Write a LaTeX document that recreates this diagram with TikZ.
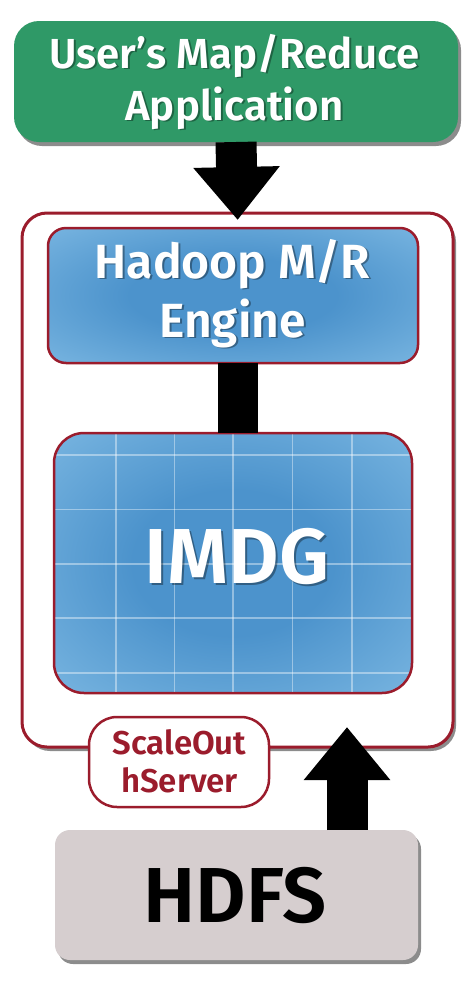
\documentclass[tikz,border=0pt]{standalone}
\usepackage{fontspec}
\setmainfont{Fira Sans}[UprightFont={* SemiBold}]
\usetikzlibrary{shadows,arrows.meta,calc}
\definecolor{appgreen}{RGB}{47,153,103}
\definecolor{darkred}{RGB}{155,28,44}
\definecolor{hdfsgray}{RGB}{214,206,207}
\definecolor{bluec}{RGB}{76,147,204}
\definecolor{bluee}{RGB}{148,202,237}
\pgfdeclareradialshading{blueglow}{\pgfpoint{0bp}{0bp}}{color(0bp)=(bluec); color(14bp)=(bluec); color(50bp)=(bluee); color(75bp)=(bluee)}
\tikzset{
  boxshadow/.style={drop shadow={shadow xshift=3pt, shadow yshift=-4pt, fill=black, opacity=0.45}},
  box/.style={rectangle, inner sep=0pt, outer sep=0pt},
  bluebox/.style={box, draw=darkred, line width=2.5pt, shading=blueglow},
  wtext/.style={text=white, align=center, inner sep=0pt},
  wshadow/.style={text=black, text opacity=0.35, align=center, inner sep=0pt},
  bigarrow/.style={line width=41pt, line cap=butt, -{Triangle[length=53pt, width=83pt]}},
  bar/.style={line width=40pt, line cap=butt},
}
\begin{document}
\begin{tikzpicture}[x=1pt,y=-1pt]
\useasboundingbox (0,0) rectangle (474,991);
% outer ScaleOut container
\node[box, draw=darkred, line width=3pt, fill=white, rounded corners=25pt, boxshadow,
      minimum width=431pt, minimum height=534pt] (outer) at (237.5,480) {};
% green application box
\node[box, fill=appgreen, rounded corners=25pt, boxshadow,
      minimum width=444pt, minimum height=121pt] (app) at (236,81.5) {};
% Hadoop engine
\node[bluebox, rounded corners=18pt, minimum width=370pt, minimum height=135pt] (hadoop) at (233,295.5) {};
% IMDG
\node[bluebox, rounded corners=30pt, minimum width=358pt, minimum height=260pt] (imdg) at (233,563) {};
\begin{scope}
  \clip[rounded corners=30pt] ($(imdg.north west)+(1.25,1.25)$) rectangle ($(imdg.south east)+(-1.25,-1.25)$);
  \foreach \dx in {-117,-58.5,0,59.5,119}
    \draw[white, opacity=0.4, line width=1.4pt] ($(imdg.north)+(\dx,0)$) -- ($(imdg.south)+(\dx,0)$);
  \foreach \dy in {-108,-53.5,1,55,110}
    \draw[white, opacity=0.4, line width=1.4pt] ($(imdg.west)+(0,\dy)$) -- ($(imdg.east)+(0,\dy)$);
\end{scope}
% connector bar between Hadoop and IMDG
\draw[bar] (hadoop.south -| outer.center) -- (imdg.north -| outer.center);
% ScaleOut hServer tag
\node[box, draw=darkred, line width=2.5pt, fill=white, rounded corners=28pt,
      minimum width=180pt, minimum height=90pt] (tag) at (179,762) {};
% HDFS
\node[box, fill=hdfsgray, rounded corners=15pt, boxshadow,
      minimum width=363pt, minimum height=130pt] (hdfs) at (236.5,895) {};
% texts (anchor=base is the baseline of the last line)
\node[wshadow, anchor=base, font=\fontsize{42}{52}\selectfont] (appsh) at (236.5,121.5) {User’s Map/Reduce\\Application};
\node[wtext, anchor=base, font=\fontsize{42}{52}\selectfont] (apptxt) at (234.5,120) {User’s Map/Reduce\\Application};
\node[wshadow, anchor=base, font=\fontsize{48}{59}\selectfont] (hadsh) at (234.5,338.5) {Hadoop M/R\\Engine};
\node[wtext, anchor=base, font=\fontsize{48}{59}\selectfont] (hadtxt) at (232.5,337) {Hadoop M/R\\Engine};
\node[wshadow, anchor=base, font=\fontsize{78}{80}\selectfont] (imdgsh) at (239,585) {IMDG};
\node[wtext, anchor=base, font=\fontsize{78}{80}\selectfont] (imdgtxt) at (237,583) {IMDG};
\node[text=darkred, align=center, inner sep=0pt, anchor=base, font=\fontsize{33}{38}\selectfont] (tagtxt) at (179.5,792) {ScaleOut\\hServer};
\node[text=black, inner sep=0pt, anchor=base, font=\fontsize{78}{80}\selectfont] (hdfstxt) at (235,922) {HDFS};
% arrows
\draw[bigarrow, shorten >=-7pt] (app.south) -- (outer.north);
\coordinate (uptip) at (347,727);
\draw[bigarrow] (hdfs.north -| uptip) -- (uptip);
\end{tikzpicture}
\end{document}
